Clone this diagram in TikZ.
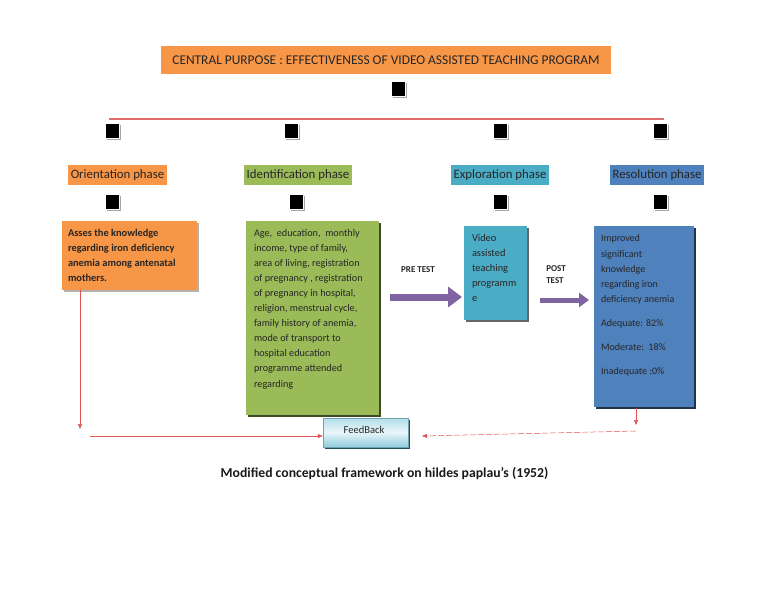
\documentclass[tikz,border=0pt]{standalone}
\usepackage{fontspec}
\setmainfont{Carlito}
\usetikzlibrary{shadows,arrows.meta}
\definecolor{orF}{HTML}{F79646}
\definecolor{grF}{HTML}{9BBB59}
\definecolor{tlF}{HTML}{4BACC6}
\definecolor{blF}{HTML}{4F81BD}
\definecolor{puF}{HTML}{8064A2}
\definecolor{rdL}{HTML}{E05555}
\definecolor{rdT}{HTML}{E26B6B}
\definecolor{fbTop}{HTML}{B4DEEA}
\definecolor{fbBot}{HTML}{8FCBDD}
\begin{document}
\begin{tikzpicture}[x=1pt,y=-1pt,
  sq/.style={fill=black, draw=white, line width=0.6pt, minimum width=14pt, minimum height=15pt, inner sep=0pt,
     drop shadow={shadow xshift=1.6pt, shadow yshift=-1.6pt, fill=gray!70, opacity=1}},
  phase/.style={inner sep=3pt, minimum height=20pt, font=\fontsize{12.8}{14}\selectfont, text=black!85},
  cbox/.style={inner sep=0pt},
  ctext/.style={anchor=north west, inner sep=0pt, align=left, text=black!85},
  redln/.style={draw=rdL, line width=0.5pt, -{Triangle[length=5pt,width=4pt]}},
  bigarrow/.style={draw=puF, line width=7pt, -{Triangle[length=14pt,width=20pt]}}
]
\useasboundingbox (0,0) rectangle (768,594);

% title
\node[fill=orF, minimum width=450pt, minimum height=27pt, inner sep=0pt,
      font=\fontsize{13.4}{15}\selectfont, text=black!85] (title) at (386,60)
  {CENTRAL PURPOSE : EFFECTIVENESS OF VIDEO ASSISTED TEACHING PROGRAM};
\node[sq] (s0) at (398,89) {};

% red line
\coordinate (rl1) at (109,119);
\coordinate (rl2) at (664,119);
\draw[draw=rdT, line width=1.1pt] (rl1) -- (rl2);

% squares row 1
\node[sq] (s1) at (112,131) {};
\node[sq] (s2) at (291,131) {};
\node[sq] (s3) at (500,131) {};
\node[sq] (s4) at (660,131) {};

% phases
\node[phase, fill=orF] (p1) at (117.5,175) {Orientation phase};
\node[phase, fill=grF] (p2) at (298,175) {Identification phase};
\node[phase, fill=tlF] (p3) at (500,175) {Exploration phase};
\node[phase, fill=blF] (p4) at (657,175) {Resolution phase};

% squares row 2
\node[sq] (t1) at (112,202) {};
\node[sq] (t2) at (296,202) {};
\node[sq] (t3) at (500,202) {};
\node[sq] (t4) at (660,202) {};

% orientation box
\node[cbox, fill=orF, minimum width=135pt, minimum height=69pt,
      drop shadow={shadow xshift=2pt, shadow yshift=-2pt, fill=gray!60, opacity=1}] (ori) at (129.5,255.5) {};
\node[ctext, font=\bfseries\fontsize{10.4}{15}\selectfont] (orit) at ([shift={(6,8)}]ori.north west)
  {Asses the knowledge\\regarding iron deficiency\\anemia among antenatal\\mothers.};

% identification box
\node[cbox, fill=grF, minimum width=133pt, minimum height=194pt,
      drop shadow={shadow xshift=2pt, shadow yshift=-2pt, fill=black!60!grF, opacity=1}] (ide) at (312.5,318) {};
\node[ctext, font=\fontsize{10.2}{15.1}\selectfont] (idet) at ([shift={(8,8)}]ide.north west)
  {Age,\ \ education,\ \ monthly\\income, type of family,\\area of living, registration\\of pregnancy , registration\\of pregnancy in hospital,\\religion, menstrual cycle,\\family history of anemia,\\mode of transport to\\hospital education\\programme attended\\regarding};

% video box
\node[cbox, fill=tlF, minimum width=63pt, minimum height=94pt,
      drop shadow={shadow xshift=2pt, shadow yshift=-2pt, fill=black!60, opacity=1}] (vid) at (495.5,273) {};
\node[ctext, font=\fontsize{10.4}{15.1}\selectfont] (vidt) at ([shift={(8,8)}]vid.north west)
  {Video\\assisted\\teaching\\programm\\e};

% resolution box
\node[cbox, fill=blF, minimum width=100pt, minimum height=181pt,
      drop shadow={shadow xshift=2pt, shadow yshift=-2pt, fill=black!60!blF, opacity=1}] (res) at (644,316.5) {};
\node[ctext, font=\fontsize{10}{15.1}\selectfont] (rest) at ([shift={(7,9)}]res.north west)
  {Improved\\significant\\knowledge\\regarding iron\\deficiency anemia\\[9pt]Adequate: 82\%\\[9pt]Moderate:\ \ 18\%\\[9pt]Inadequate ;0\%};

% arrows pre / post
\node[font=\bfseries\fontsize{9}{11}\selectfont, text=black!85] (pre) at (418,270) {PRE TEST};
\node[font=\bfseries\fontsize{9}{12}\selectfont, text=black!85, align=left] (post) at (556,275) {POST\\TEST};
\coordinate (pa1) at (390,297);
\coordinate (pa2) at (462,297);
\draw[bigarrow] (pa1) -- (pa2);
\coordinate (qa1) at (540,300);
\coordinate (qa2) at (589,300);
\draw[bigarrow, line width=5pt, -{Triangle[length=10pt,width=14pt]}] (qa1) -- (qa2);

% feedback
\node[minimum width=85pt, minimum height=29pt, inner sep=0pt, top color=fbTop, bottom color=fbBot, middle color=white!70!fbTop,
      draw=fbBot!80!black, line width=0.4pt,
      drop shadow={shadow xshift=1.5pt, shadow yshift=-1.5pt, fill=black!55!tlF, opacity=1}] (fb) at (365.5,432.5) {};
\node[font=\fontsize{10.5}{12}\selectfont, text=black!85] (fbt) at (364,429.5) {FeedBack};

% red feedback lines
\coordinate (oa) at (80,290);
\coordinate (ob) at (80,429);
\draw[redln] (oa) -- (ob);
\coordinate (oc) at (90,436);
\draw[redln] (oc) -- (fb.west |- oc);
\coordinate (ra) at (636,408);
\coordinate (rb) at (636,425);
\draw[redln] (ra) -- (rb);
\coordinate (rc) at (636,431);
\coordinate (rd) at (422,436);
\draw[redln, dash pattern=on 6pt off 2pt] (rc) -- (rd);

% caption
\node[font=\bfseries\fontsize{13.7}{16}\selectfont, text=black!90] (cap) at (384.5,473)
  {Modified conceptual framework on hildes paplau’s (1952)};
\end{tikzpicture}
\end{document}
